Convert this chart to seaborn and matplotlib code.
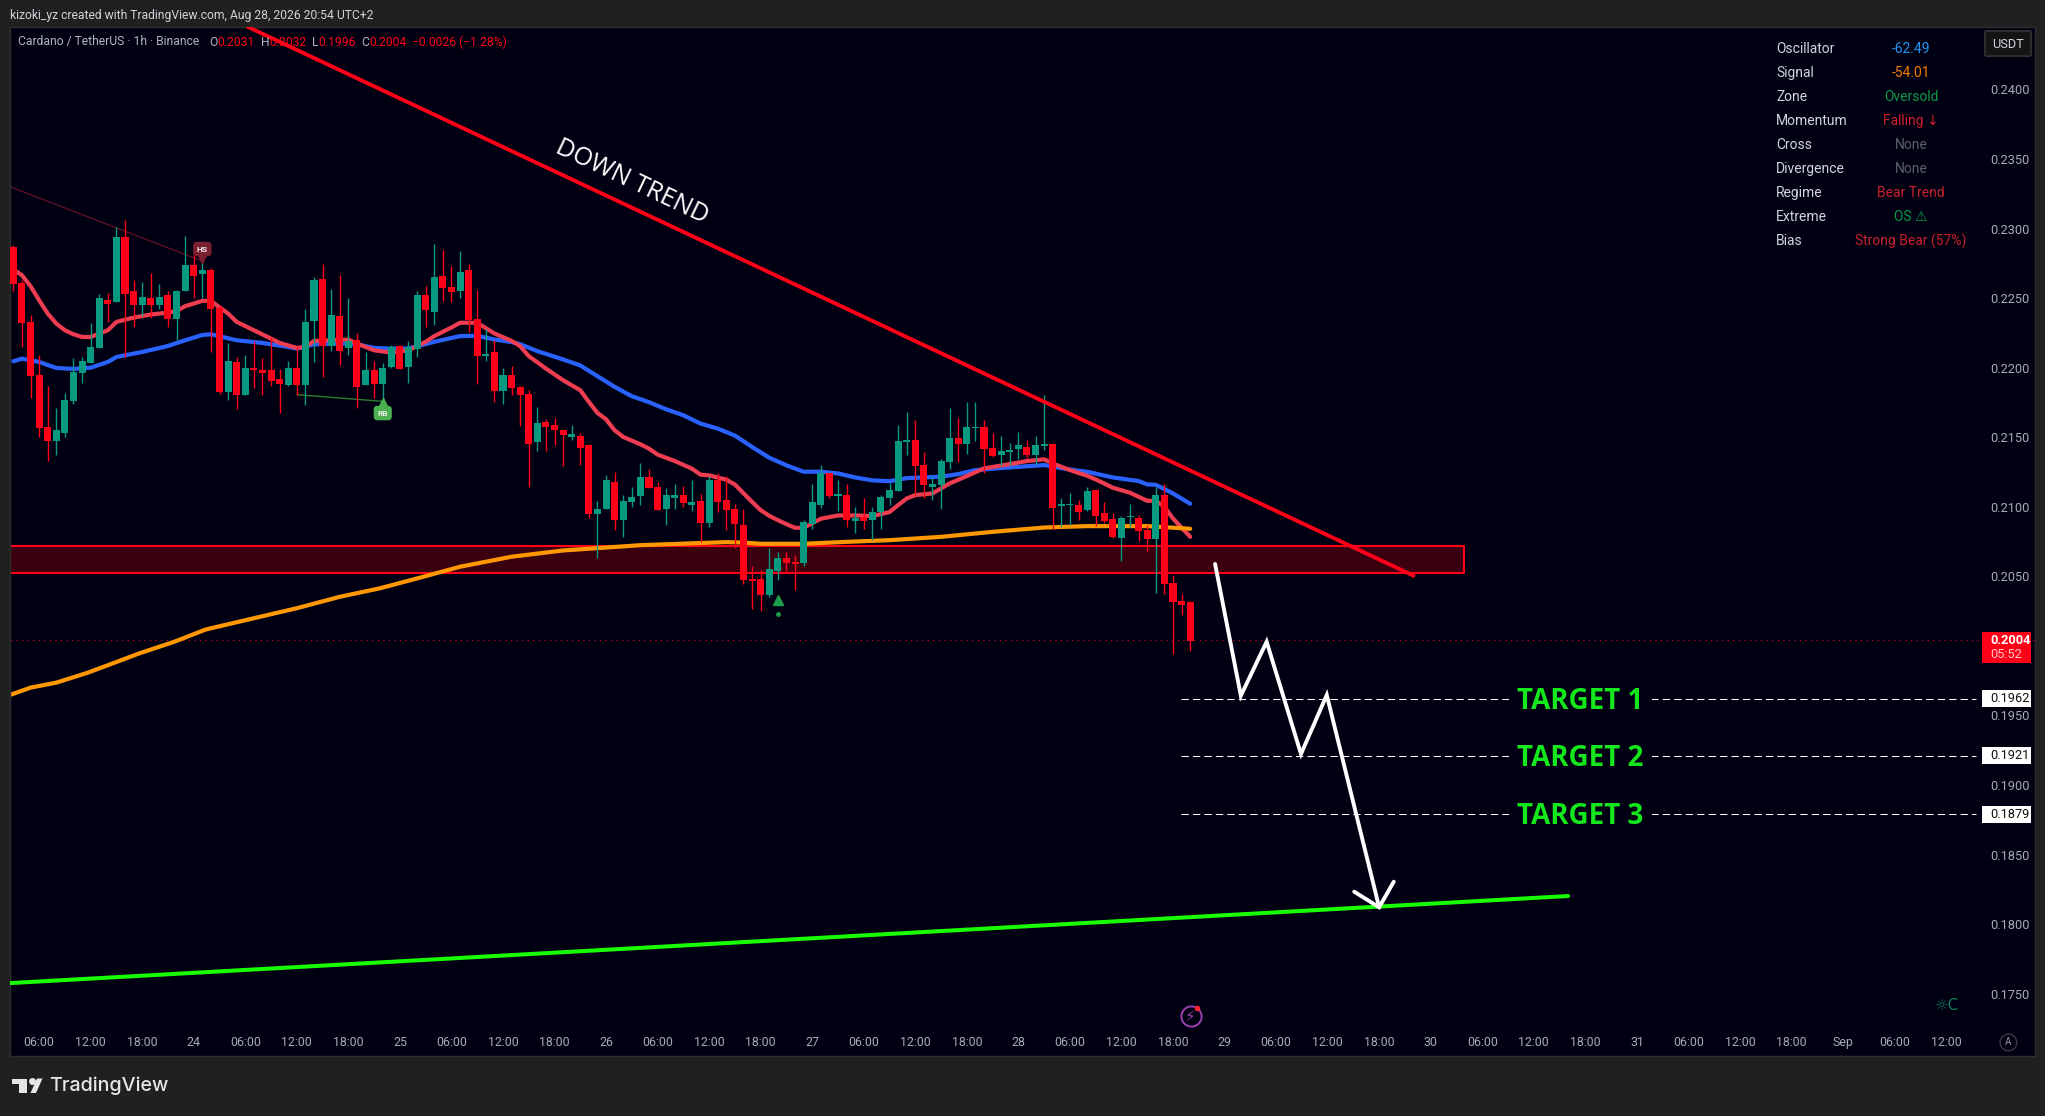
import numpy as np
import pandas as pd
import matplotlib
matplotlib.use("Agg")
import matplotlib.pyplot as plt
from matplotlib.lines import Line2D
from matplotlib.patches import Polygon, Rectangle, FancyBboxPatch
import seaborn as sns

W, H = 2045, 1116

# hours since Aug 24 00:00, one candle per hour
hours = list(range(-21, 117))

opens = [
    .22867, .22607, .22327, .21945, .21571, .21470, .21527, .21758, .21959, .22031,
    .22139, .22485, .22471, .22939, .22550, .22449, .22499, .22449, .22521, .22348,
    .22550, .22737, .22672, .22701, .22427, .21823, .22039, .21801, .21995, .21981,
    .21981, .21916, .21873, .21995, .21873, .22334, .22636, .22154, .22370, .22139,
    .22197, .21873, .21981, .21880, .22003, .22155, .22004, .22133, .22522, .22400,
    .22659, .22580, .22551, .22702, .22349, .22083, .22112, .21831, .21946, .21860,
    .21809, .21464, .21608, .21586, .21550, .21500, .21507, .21444, .20947, .20983,
    .21178, .20904, .21034, .21077, .21214, .21142, .20983, .21062, .21084, .21012,
    .21041, .20882, .21192, .21048, .20983, .20868, .20479, .20479, .20364, .20537,
    .20630, .20602, .20594, .20875, .21012, .21242, .21077, .21084, .20897, .20930,
    .20904, .20962, .21062, .21113, .21466, .21480, .21300, .21142, .21156, .21322,
    .21494, .21451, .21566, .21574, .21422, .21372, .21394, .21415, .21430, .21372,
    .21437, .21451, .21005, .21012, .21012, .20976, .21120, .20954, .20911, .20774,
    .20926, .20918, .20832, .20767, .21084, .20450, .20321, .20314,
]
closes = [
    .22600, .22319, .21940, .21563, .21470, .21549, .21765, .21967, .22046, .22147,
    .22499, .22461, .22939, .22528, .22449, .22507, .22449, .22507, .22348, .22550,
    .22737, .22658, .22701, .22420, .21823, .22046, .21801, .21995, .21981, .21959,
    .21902, .21880, .21995, .21873, .22327, .22629, .22154, .22377, .22118, .22190,
    .21859, .21981, .21880, .21995, .22147, .21989, .22148, .22522, .22414, .22652,
    .22572, .22544, .22688, .22342, .22083, .22097, .21831, .21946, .21852, .21802,
    .21449, .21600, .21572, .21550, .21514, .21521, .21420, .20947, .20983, .21192,
    .20904, .21041, .21070, .21214, .21134, .20976, .21084, .21084, .21026, .21034,
    .20882, .21192, .21034, .20976, .20875, .20472, .20465, .20364, .20551, .20630,
    .20594, .20587, .20890, .21034, .21242, .21077, .21091, .20904, .20918, .20897,
    .20962, .21070, .21120, .21473, .21480, .21293, .21156, .21163, .21329, .21494,
    .21451, .21574, .21574, .21415, .21365, .21401, .21408, .21444, .21372, .21444,
    .21451, .20990, .21019, .21019, .20962, .21113, .20933, .20897, .20782, .20918,
    .20933, .20825, .20767, .21084, .20443, .20314, .20292, .20033,
]
highs = [
    .22881, .22629, .22377, .22089, .21866, .21707, .21815, .22067, .22075, .22319,
    .22528, .22535, .23011, .23061, .22629, .22615, .22679, .22600, .22550, .22557,
    .22946, .22816, .22773, .22715, .22449, .22175, .22075, .22089, .22190, .22067,
    .22221, .21988, .22046, .22149, .22420, .22651, .22744, .22564, .22665, .22499,
    .22247, .22111, .22046, .22031, .22161, .22162, .22191, .22551, .22587, .22889,
    .22846, .22731, .22839, .22745, .22558, .22277, .22198, .21996, .22011, .21867,
    .21838, .21716, .21629, .21636, .21557, .21586, .21528, .21451, .21041, .21228,
    .21250, .21084, .21142, .21314, .21271, .21178, .21134, .21163, .21149, .21192,
    .21091, .21221, .21242, .21221, .21019, .20983, .20573, .20544, .20702, .20674,
    .20674, .20652, .20904, .21163, .21300, .21242, .21192, .21163, .20998, .21062,
    .20998, .21084, .21170, .21588, .21682, .21624, .21394, .21221, .21340, .21710,
    .21638, .21754, .21754, .21624, .21530, .21509, .21458, .21538, .21480, .21509,
    .21804, .21458, .21062, .21098, .21048, .21142, .21120, .21034, .20954, .20933,
    .21019, .20940, .20868, .21142, .21163, .20508, .20371, .20321,
]
lows = [
    .22550, .22147, .21779, .21499, .21326, .21369, .21499, .21736, .21887, .22031,
    .22139, .22327, .22471, .22077, .22291, .22370, .22355, .22420, .22291, .22197,
    .22550, .22499, .22499, .22111, .21813, .21765, .21700, .21801, .21851, .21801,
    .21866, .21671, .21866, .21801, .21729, .22039, .21931, .22118, .22017, .22089,
    .21707, .21873, .21779, .21765, .21995, .21989, .21888, .22076, .22292, .22306,
    .22479, .22472, .22500, .22256, .21881, .22047, .21752, .21737, .21802, .21579,
    .21140, .21399, .21399, .21442, .21291, .21478, .21298, .20918, .20630, .20983,
    .20832, .20782, .20998, .21012, .21134, .20976, .20868, .20983, .20998, .20969,
    .20746, .20854, .20962, .20832, .20702, .20443, .20263, .20249, .20350, .20472,
    .20522, .20400, .20573, .20839, .20990, .21062, .20969, .20854, .20810, .20839,
    .20760, .20839, .21012, .21113, .21372, .21084, .21062, .21048, .20983, .21271,
    .21322, .21379, .21473, .21242, .21358, .21293, .21300, .21343, .21350, .21300,
    .21408, .20839, .20854, .20868, .20904, .20969, .20861, .20882, .20774, .20609,
    .20854, .20753, .20681, .20378, .20371, .19939, .20220, .19961,
]

# moving averages, read at a few hours along each line
blue_h = [-21, -20, -18, -16, -14, -12, -10, -9, -6, -3, -1, 1, 2, 5, 8, 11, 12, 14, 17, 19, 21, 23, 25, 28, 31,
          33, 35, 37, 38, 40, 43, 45, 47, 49, 51, 53, 55, 57, 59, 61, 63, 65, 67, 69, 71, 73, 75, 77, 79, 81, 83,
          87, 89, 91, 95, 99, 101, 103, 104, 107, 110, 111, 112, 114, 116]
blue_v = [.22046, .22065, .22041, .21998, .21991, .22000, .22041, .22077, .22113, .22156, .22197, .22235, .22240,
          .22197, .22178, .22149, .22137, .22168, .22173, .22168, .22142, .22137, .22138, .22186, .22227, .22229,
          .22203, .22184, .22169, .22119, .22059, .22016, .21939, .21862, .21795, .21752, .21701, .21658, .21598,
          .21562, .21512, .21430, .21353, .21298, .21252, .21252, .21240, .21211, .21190, .21184, .21206, .21216,
          .21235, .21264, .21283, .21300, .21278, .21259, .21252, .21211, .21185, .21161, .21158, .21096, .21022]
red_h = [-21, -20, -19, -18, -17, -16, -15, -14, -13, -12, -11, -10, -9, -7, -5, -3, -2, -1, 1, 2, 4, 5, 7, 9, 10,
         12, 13, 14, 16, 18, 19, 21, 23, 25, 26, 27, 28, 30, 31, 33, 35, 37, 38, 39, 41, 43, 45, 46, 47, 48, 49,
         50, 52, 53, 54, 56, 58, 59, 60, 62, 63, 65, 66, 67, 68, 69, 70, 71, 73, 75, 77, 79, 81, 82, 83, 84, 86,
         88, 90, 92, 95, 97, 99, 100, 102, 104, 105, 107, 109, 111, 112, 113, 114, 116]
red_v = [.22706, .22665, .22586, .22485, .22389, .22317, .22269, .22240, .22221, .22221, .22245, .22269, .22329,
         .22360, .22382, .22396, .22408, .22442, .22480, .22480, .22389, .22329, .22269, .22209, .22178, .22142,
         .22149, .22192, .22197, .22202, .22173, .22125, .22108, .22126, .22155, .22186, .22227, .22289, .22323,
         .22323, .22246, .22193, .22155, .22083, .21994, .21910, .21838, .21754, .21675, .21629, .21550, .21502,
         .21449, .21418, .21375, .21329, .21274, .21231, .21226, .21195, .21160, .21035, .20976, .20935, .20904,
         .20875, .20849, .20849, .20914, .20938, .20938, .20933, .20962, .21012, .21060, .21084, .21096, .21168,
         .21221, .21276, .21307, .21329, .21341, .21312, .21264, .21223, .21197, .21137, .21101, .21043, .21043,
         .21000, .20916, .20784]
orange_h = [-21.4, -19, -16, -12.4, -9.7, -6.4, -2.3, 1.4, 7, 12, 17, 21.6, 26, 31, 37, 43, 52, 62, 64, 66, 71, 76,
            81, 87, 93, 99, 104, 111, 116]
orange_v = [.19647, .19700, .19736, .19806, .19868, .19945, .20029, .20118, .20199, .20271, .20353, .20413, .20485,
            .20569, .20641, .20686, .20724, .20746, .20743, .20734, .20734, .20748, .20760, .20784, .20820, .20851,
            .20861, .20861, .20842]

# drawing tools on the chart
zone_low, zone_high, zone_end = .20526, .20718, 147.9
trend_h, trend_v = [6.3, 142.0], [.2445, .20505]
support_h, support_v = [-21.4, 160.0], [.17576, .18202]
path_h = [118.9, 121.9, 124.9, 128.9, 131.9, 138.0]
path_v = [.20589, .19642, .20030, .19223, .19647, .18121]
head_h = [135.1, 138.0, 139.7]
head_v = [.18233, .18121, .18305]
target_names = ["TARGET 1", "TARGET 2", "TARGET 3"]
target_values = [.1962, .1921, .1879]
last_price = .2004

y_ticks = [.24, .235, .23, .225, .22, .215, .21, .205, .195, .19, .185, .18, .175]
x_ticks = [-18, -12, -6, 0, 6, 12, 18, 24, 30, 36, 42, 48, 54, 60, 66, 72, 78, 84, 90, 96, 102, 108, 114, 120, 126,
           132, 138, 144, 150, 156, 162, 168, 174, 180, 186, 192, 198, 204]
x_labels = ["06:00", "12:00", "18:00", "24", "06:00", "12:00", "18:00", "25", "06:00", "12:00", "18:00", "26",
            "06:00", "12:00", "18:00", "27", "06:00", "12:00", "18:00", "28", "06:00", "12:00", "18:00", "29",
            "06:00", "12:00", "18:00", "30", "06:00", "12:00", "18:00", "31", "06:00", "12:00", "18:00", "Sep",
            "06:00", "12:00"]

table_names = ["Oscillator", "Signal", "Zone", "Momentum", "Cross", "Divergence", "Regime", "Extreme", "Bias"]
table_values = ["-62.49", "-54.01", "Oversold", "Falling ↓", "None", "None", "Bear Trend", "OS ⚠", "Strong Bear (57%)"]

PANEL = "#000012"
OUTER = "#202020"
UP = "#089981"
DOWN = "#ff0018"
table_colors = ["#2196f3", "#f57c00", "#0d9a4a", "#d0202c", "#5d606b", "#5d606b", "#c8202c", "#0d9a4a", "#c8202c"]


def px(x, y):
    return x / W, 1 - y / H


def main():
    sns.set_theme(style="dark", rc={"axes.facecolor": PANEL, "figure.facecolor": OUTER})
    plt.rcParams["font.family"] = ["Roboto", "DejaVu Sans"]

    fig = plt.figure(figsize=(W / 100, H / 100), dpi=100)
    ax = fig.add_axes([10 / W, 1 - 1056 / H, 2025 / W, 1029 / H])

    df = pd.DataFrame({"hour": hours, "open": opens, "high": highs, "low": lows, "close": closes})
    df["color"] = np.where(df["close"] >= df["open"], UP, DOWN)

    # zone behind everything
    ax.fill_between([-22, zone_end], zone_low, zone_high, color="#3a0010", lw=0, zorder=1)
    ax.plot([-22, zone_end, zone_end, -22], [zone_high, zone_high, zone_low, zone_low], color=DOWN, lw=1.5, zorder=1.5)

    sns.lineplot(x=blue_h, y=blue_v, color="#2962ff", lw=3, ax=ax, zorder=2, solid_capstyle="round")
    sns.lineplot(x=red_h, y=red_v, color="#ee3c50", lw=3, ax=ax, zorder=2, solid_capstyle="round")
    sns.lineplot(x=orange_h, y=orange_v, color="#ff9800", lw=3, ax=ax, zorder=2.1, solid_capstyle="round")

    # candles
    ax.vlines(df["hour"], df["low"], df["high"], colors=df["color"], lw=1, zorder=3)
    ax.bar(df["hour"], (df["close"] - df["open"]).abs(), bottom=df[["open", "close"]].min(axis=1),
           width=0.82, color=df["color"], lw=0, zorder=3.1)

    # thin pattern lines and small signals
    ax.plot([-21.4, 1], [.23301, .22766], color="#5a1020", lw=1, zorder=2.5)
    ax.plot([12, 22], [.21806, .21758], color="#2e7d32", lw=1, zorder=2.5)
    ax.plot([1], [.22796], marker="v", ms=9, color="#7a1f2f", zorder=4)
    ax.text(1, .22853, "HS", color="#eeeeee", fontsize=6, ha="center", va="center", zorder=5, fontweight="bold",
            bbox=dict(boxstyle="round,pad=0.45", fc="#7a1f2f", ec="none"))
    ax.plot([22], [.21739], marker="^", ms=9, color="#4caf50", zorder=4)
    ax.text(22, .21674, "RB", color="#eeeeee", fontsize=6, ha="center", va="center", zorder=5, fontweight="bold",
            bbox=dict(boxstyle="round,pad=0.45", fc="#4caf50", ec="none"))
    ax.plot([68], [.2033], marker="^", ms=7, color="#1e9e4a", zorder=4)
    ax.plot([68], [.20229], marker="o", ms=2.5, color="#1e9e4a", zorder=4)

    # last price line
    ax.plot([-22, 215], [last_price, last_price], color=DOWN, lw=0.8, ls=(0, (1, 4)), alpha=0.9, zorder=1.8)

    # trend lines
    ax.plot(trend_h, trend_v, color=DOWN, lw=2.8, zorder=6, solid_capstyle="round")
    ax.plot(support_h, support_v, color="#17ff00", lw=2.9, zorder=6)
    ax.text(51, .23335, "DOWN TREND", color="white", fontsize=18, rotation=-25.5, rotation_mode="anchor",
            ha="center", va="center", zorder=7, family=["Open Sans", "DejaVu Sans"], fontweight="medium")

    # target levels
    for name, value in zip(target_names, target_values):
        ax.plot([114.9, 207.5], [value, value], color="white", lw=0.75, ls=(0, (7, 4)), zorder=5)
        ax.text(161.4, value - .00018, name, color="#14e81c", fontsize=20, fontweight="bold", ha="center", va="center",
                zorder=6, family=["Open Sans", "DejaVu Sans"], bbox=dict(fc=PANEL, ec="none", pad=6))

    # projected path
    ax.plot(path_h, path_v, color="white", lw=2.8, zorder=8, solid_capstyle="round", solid_joinstyle="miter")
    ax.plot(head_h, head_v, color="white", lw=2.8, zorder=8, solid_capstyle="round", solid_joinstyle="miter")

    ax.set_xlim(-21.39, 214.35)
    ax.set_ylim(.17052, .24449)
    ax.set_xticks(x_ticks)
    ax.set_xticklabels(x_labels)
    ax.set_yticks(y_ticks)
    ax.set_yticklabels([f"{v:.4f}" for v in y_ticks])
    ax.yaxis.tick_right()
    ax.tick_params(axis="y", length=0, pad=-32.4, labelsize=9.2, labelcolor="#a8abb5")
    ax.tick_params(axis="x", length=0, pad=-14.5, labelsize=8.9, labelcolor="#a8abb5")
    ax.grid(False)
    for spine in ax.spines.values():
        spine.set_color("#2e2e2e")
        spine.set_linewidth(1)
    ax.set_xlabel("")
    ax.set_ylabel("")

    # price tags on the scale
    scale = ax.get_yaxis_transform()
    tag_x = (1982 - 10) / 2025
    tag_w = 49 / 2025
    for value in target_values:
        ax.add_patch(Rectangle((tag_x, value - .0006), tag_w, .0012, transform=scale, fc="white", ec="none", zorder=9))
        ax.text(tag_x + 8 / 2025, value, f"{value:.4f}", transform=scale, color="#111111", fontsize=9.2, va="center",
                zorder=10)
    ax.add_patch(Rectangle((tag_x, .19879), tag_w, .00221, transform=scale, fc=DOWN, ec="none", zorder=9))
    ax.text(tag_x + 8 / 2025, last_price, f"{last_price:.4f}", transform=scale, color="white", fontsize=9.2,
            fontweight="bold", va="center", zorder=10)
    fig.text(*px(1990, 655), "05:52", color="#ffc4c8", fontsize=9.2, va="center", zorder=10)

    # header
    fig.text(*px(10, 15), "kizoki_yz created with TradingView.com, Aug 28, 2026 20:54 UTC+2", color="#d1d4dc",
             fontsize=8.7, va="center")
    fig.text(*px(18, 42), "Cardano / TetherUS · 1h · Binance", color="#b2b5be", fontsize=8.7, va="center")
    legend_parts = [(209, "O", "#b2b5be"), (217, "0.2031", DOWN), (261, "H", "#b2b5be"), (269, "0.2032", DOWN),
                    (312, "L", "#b2b5be"), (318, "0.1996", DOWN), (361, "C", "#b2b5be"), (369, "0.2004", DOWN),
                    (412, "−0.0026 (−1.28%)", DOWN)]
    for x, label, color in legend_parts:
        fig.text(*px(x, 42), label, color=color, fontsize=8.7, va="center")

    # indicator table
    for i, (name, value, color) in enumerate(zip(table_names, table_values, table_colors)):
        y = 49.3 + i * 24
        fig.text(*px(1776, y), name, color="#d1d4dc", fontsize=10, va="center")
        fig.text(*px(1911, y), value, color=color, fontsize=10, va="center", ha="center")

    # currency button
    fig.add_artist(FancyBboxPatch(px(1987, 55), 42 / W, 23 / H, boxstyle="round,pad=0.001", transform=fig.transFigure,
                                  fc="#141414", ec="#3a3a3a", lw=1))
    fig.text(*px(2008, 44.5), "USDT", color="#d1d4dc", fontsize=9.2, ha="center", va="center")

    # small icons
    def dot(x, y, size, face, edge="none", width=1.0):
        fig.add_artist(Line2D([x / W], [1 - y / H], marker="o", ms=size, mfc=face, mec=edge, mew=width,
                              transform=fig.transFigure, ls="none"))

    dot(1190.7, 1015.7, 14.5, "none", "#9c3fb0", 1.4)
    dot(1197, 1008, 4, "#ff2030")
    fig.text(*px(1190.5, 1016), "⚡", color="#9c3fb0", fontsize=11, ha="center", va="center", family="DejaVu Sans")
    fig.text(*px(1947, 1005), "☼C", color="#0f7a55", fontsize=11, ha="center", va="center", family="DejaVu Sans")
    dot(2008, 1042, 12, "none", "#3a3a44", 1)
    fig.text(*px(2008, 1042), "A", color="#9a9da6", fontsize=7, ha="center", va="center")

    # logo in the footer
    logo_color = "#e6e6e6"
    shapes = [[(12, 1078.5), (27, 1078.5), (27, 1093), (18.5, 1093), (18.5, 1083.5), (12, 1083.5)],
              [(37, 1078.5), (42.5, 1078.5), (36, 1093), (30.5, 1093)]]
    for shape in shapes:
        fig.add_artist(Polygon([px(x, y) for x, y in shape], transform=fig.transFigure, fc=logo_color, ec="none"))
    dot(32, 1081, 5, logo_color)
    fig.text(*px(49, 1086), "TradingView", color=logo_color, fontsize=14.2, va="center", family=["Inter", "DejaVu Sans"],
             fontweight="medium")

    fig.savefig("out.png", dpi=100, facecolor=OUTER)


if __name__ == "__main__":
    main()
